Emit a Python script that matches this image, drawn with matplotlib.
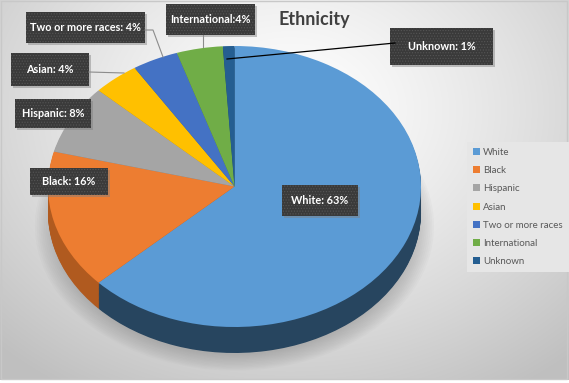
import numpy as np
import matplotlib
matplotlib.use('Agg')
import matplotlib.pyplot as plt
from matplotlib.patches import Rectangle, Ellipse

plt.rcParams['font.family'] = ['Lato', 'DejaVu Sans']
plt.rcParams['hatch.linewidth'] = 0.5

# data
groups = ['White', 'Black', 'Hispanic', 'Asian', 'Two or more races',
          'International', 'Unknown']
shares = [63, 16, 8, 4, 4, 4, 1]
top_colors = ['#5B9BD5', '#ED7D31', '#A5A5A5', '#FFC000', '#4472C4',
              '#70AD47', '#255E91']
side_colors = ['#27455f', '#b05a1f', '#7c7c7c', '#bf9000', '#2f5597',
               '#507e32', '#1b4468']

W, H = 569, 383
fig = plt.figure(figsize=(W / 100, H / 100), dpi=100)

# background gradient
bg = fig.add_axes([0, 0, 1, 1], zorder=0)
yy, xx = np.mgrid[0:H, 0:W]
r = np.sqrt(((xx - 290) / 420.0) ** 2 + ((yy - 110) / 330.0) ** 2)
shade = 1.0 - 0.25 * np.clip(r, 0, 1) ** 1.3
img = np.dstack([shade, shade, shade])
img[380:, :, :] = 1.0
bg.imshow(img, extent=(0, W, H, 0), aspect='auto', interpolation='bilinear')
bg.add_patch(Rectangle((1, 1), W - 3, 378, fill=False, edgecolor='#c8c8c8', lw=1))
bg.set_xlim(0, W)
bg.set_ylim(H, 0)
bg.axis('off')

# pie axes (elliptical)
depth = 0.185
pax = fig.add_axes([48 / W, 30 / H, 373 / W, 307 / H], zorder=1)
pax.patch.set_visible(False)

# soft shadow under the pie
for i in range(12):
    pax.add_patch(Ellipse((0, -0.28), 2.14 - i * 0.02, 2.06 - i * 0.02,
                          color='#7a7a7a', alpha=0.04, lw=0, clip_on=False))

# side of the cylinder
for off in np.linspace(-depth, -0.01, 30):
    pax.pie(shares, colors=side_colors, startangle=90, counterclock=False,
            radius=1, center=(0, off), wedgeprops=dict(linewidth=0))

wedges, _ = pax.pie(shares, colors=top_colors, startangle=90, counterclock=False,
                    radius=1, center=(0, 0), wedgeprops=dict(linewidth=0))
pax.set_aspect('auto')
pax.set_xlim(-1, 1)
pax.set_ylim(-1 - depth, 1)
pax.axis('off')

# overlay in pixel coordinates for labels
ov = fig.add_axes([0, 0, 1, 1], zorder=3)
ov.patch.set_visible(False)
ov.set_xlim(0, W)
ov.set_ylim(H, 0)
ov.axis('off')

ov.text(314, 20, 'Ethnicity', ha='center', va='center', fontsize=13,
        fontweight='bold', color='#404040')

# leader lines
ov.plot([203, 203], [35, 47], color='#8c8c8c', lw=0.8)
ov.plot([145, 153, 163], [30, 30, 57], color='#8c8c8c', lw=0.8)
ov.plot([89, 124], [72, 73], color='#8c8c8c', lw=0.8)
ov.plot([227, 395], [59, 43], color='black', lw=0.9)

boxes = [(282, 185, 358, 216), (30, 168, 108, 195), (15, 99, 91, 128),
         (11, 53, 89, 86), (26, 12, 145, 43), (166, 4, 255, 35),
         (390, 28, 493, 65)]
seps = [': ', ': ', ': ', ': ', ': ', ':', ': ']
for name, v, sep, (x0, y0, x1, y1) in zip(groups, shares, seps, boxes):
    ov.add_patch(Rectangle((x0 + 2, y0 + 2), x1 - x0, y1 - y0,
                           facecolor='#7f7f7f', alpha=0.45, lw=0))
    ov.add_patch(Rectangle((x0, y0), x1 - x0, y1 - y0, facecolor='#3a3a3a',
                           edgecolor='#555555', hatch='......', lw=0))
    ov.text((x0 + x1) / 2, (y0 + y1) / 2, f'{name}{sep}{v}%', ha='center',
            va='center', fontsize=7.8, fontweight='bold', color='white')

leg = fig.legend(wedges, groups, loc='upper left',
                 bbox_to_anchor=(467 / W, 1 - 142 / H), fontsize=7,
                 frameon=True, fancybox=False, handlelength=0.75,
                 handleheight=0.75, handletextpad=0.3, labelspacing=0.95,
                 borderpad=0.6, borderaxespad=0)
leg.get_frame().set_facecolor('#e6e6e6')
leg.get_frame().set_edgecolor('none')
leg.get_frame().set_alpha(1)
leg.set_zorder(4)
for t in leg.get_texts():
    t.set_color('#595959')

fig.savefig('out.png', dpi=100)
